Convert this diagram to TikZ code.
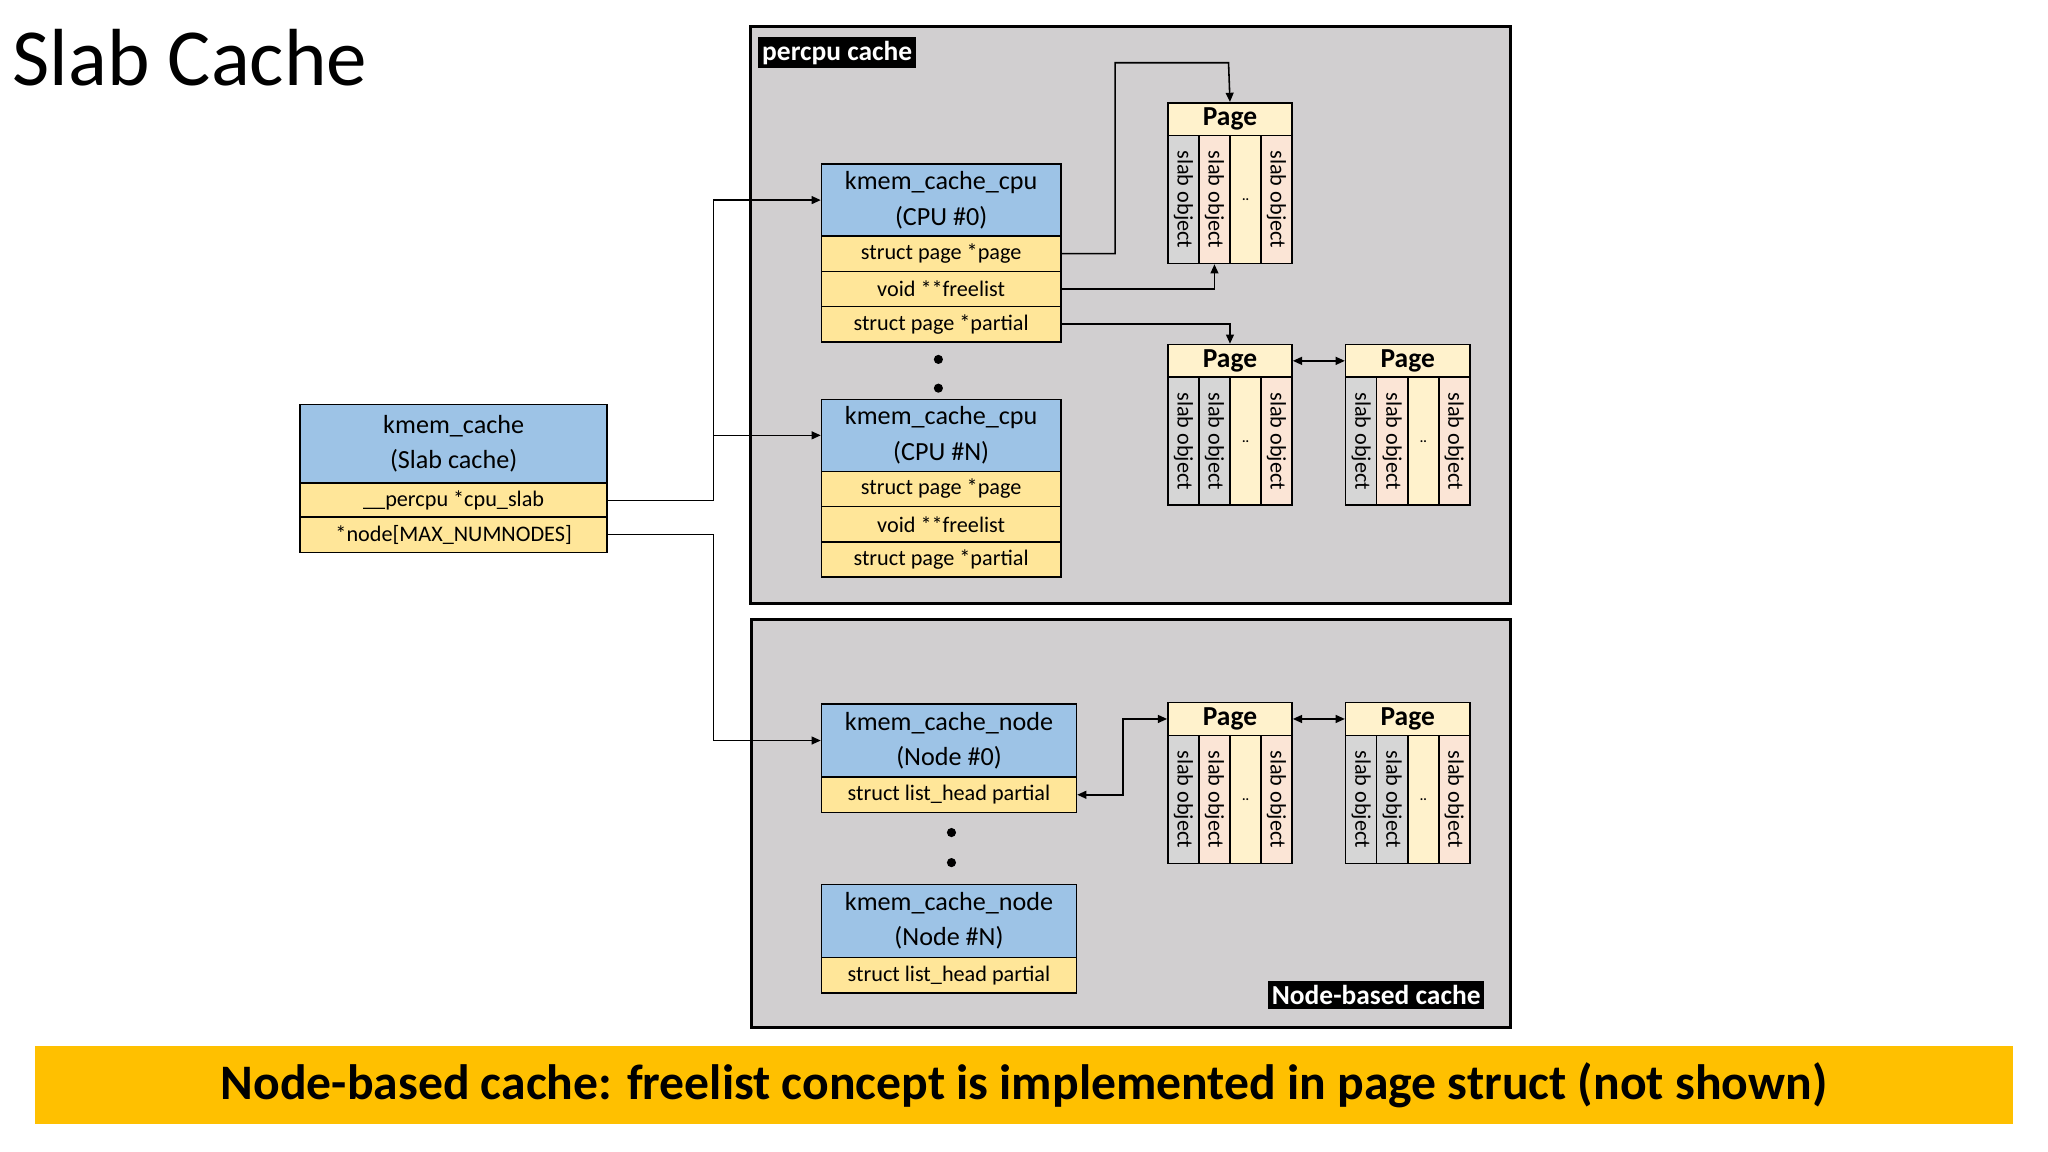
\documentclass[tikz,border=0pt]{standalone}
\usepackage{fontspec}
\setmainfont{Carlito}
\usetikzlibrary{positioning,arrows.meta}
\definecolor{hdrblue}{RGB}{157,195,230}
\definecolor{rowyel}{RGB}{255,230,153}
\definecolor{boxgray}{RGB}{209,207,208}
\definecolor{pagecream}{RGB}{255,242,204}
\definecolor{objgray}{RGB}{214,214,214}
\definecolor{objpink}{RGB}{251,229,214}
\definecolor{banner}{RGB}{255,192,0}
\tikzset{
  cache/.style={draw=black,line width=2.5pt,fill=boxgray},
  tag/.style={fill=black,text=white,font=\fontsize{21}{24}\selectfont\bfseries,inner sep=3pt,anchor=north west},
  hdr/.style={draw=black,line width=1.2pt,fill=hdrblue,anchor=north west,align=center,inner sep=0pt,font=\fontsize{20}{27}\selectfont},
  row/.style={draw=black,line width=1.2pt,fill=rowyel,anchor=north west,inner sep=0pt,minimum height=27pt,font=\fontsize{17}{20}\selectfont},
  pghdr/.style={draw=black,line width=1.2pt,fill=pagecream,anchor=north west,inner sep=0pt,minimum width=95pt,minimum height=25pt,font=\fontsize{21}{24}\selectfont\bfseries},
  obj/.style={draw=black,line width=1.2pt,anchor=north west,inner sep=0pt,minimum width=23.75pt,minimum height=98pt},
  objtxt/.style={rotate=-90,font=\fontsize{17}{20}\selectfont},
  link/.style={line width=1.2pt,-{Triangle[length=7pt,width=6pt]}},
  dlink/.style={line width=1.2pt,{Triangle[length=7pt,width=6pt]}-{Triangle[length=7pt,width=6pt]}},
  bigdot/.style={circle,fill=black,inner sep=0pt,minimum size=7pt}
}
% page with four object columns, #4 = colour of the second column
\newcommand\slabpage[4]{%
  \node[pghdr] (#1) at (#2,#3) {Page};
  \node[obj,fill=objgray] (#1a) at (#2,#3+25) {};
  \node[obj,fill=#4] (#1b) at (#2+23.75,#3+25) {};
  \node[obj,fill=pagecream] (#1c) at (#2+47.5,#3+25) {};
  \node[obj,fill=objpink] (#1d) at (#2+71.25,#3+25) {};
  \node[objtxt] at (#1a) {slab object};
  \node[objtxt] at (#1b) {slab object};
  \node[objtxt] at (#1d) {slab object};
  \node[font=\bfseries,inner sep=0pt] at (#1c) {..};
}
\begin{document}
\begin{tikzpicture}[x=1pt,y=-1pt]
\useasboundingbox (0,0) rectangle (1567,881);
\fill[white] (0,0) rectangle (1567,881);
% title
\node[anchor=west,font=\fontsize{62}{70}\selectfont] (title) at (6,44) {Slab Cache};
% cache areas
\draw[cache] (574,20) rectangle (1156,462);
\draw[cache] (575,474) rectangle (1156,786);
\node[tag] (pctag) at (580,28) {percpu cache};
\node[tag,anchor=south east] (nbtag) at (1136,772) {Node-based cache};
% kmem_cache
\node[hdr,minimum width=235pt,minimum height=60pt] (kc) at (229,309) {kmem\_cache\\(Slab cache)};
\node[row,minimum width=235pt] (kcslab) at (229,369) {\_\_percpu *cpu\_slab};
\node[row,minimum width=235pt] (kcnode) at (229,395) {*node[MAX\_NUMNODES]};
% kmem_cache_cpu
\foreach \n/\y/\c in {c0/125/0,cn/305/N}{
  \node[hdr,minimum width=183pt,minimum height=55pt] (\n) at (628,\y) {kmem\_cache\_cpu\\(CPU \#\c)};
  \node[row,minimum width=183pt] (\n page) at (628,\y+55) {struct page *page};
  \node[row,minimum width=183pt] (\n free) at (628,\y+82) {void **freelist};
  \node[row,minimum width=183pt] (\n part) at (628,\y+109) {struct page *partial};
}
\node[bigdot] (d1) at (718,275) {};
\node[bigdot] (d2) at (718,297) {};
% kmem_cache_node
\foreach \n/\y/\c in {n0/538/0,nn/676/N}{
  \node[hdr,minimum width=195pt,minimum height=56pt] (\n) at (628,\y) {kmem\_cache\_node\\(Node \#\c)};
  \node[row,minimum width=195pt] (\n part) at (628,\y+56) {struct list\_head partial};
}
\node[bigdot] (d3) at (728,637) {};
\node[bigdot] (d4) at (728,660) {};
% pages
\slabpage{pa}{893}{78}{objpink}
\slabpage{pb}{893}{263}{objgray}
\slabpage{pc}{1029}{263}{objpink}
\slabpage{pd}{893}{537}{objpink}
\slabpage{pe}{1029}{537}{objgray}
% links
\coordinate (jn) at (546,0);
\draw[link] (kcslab.east) -| (jn |- c0.west) -- (c0.west);
\draw[link] (jn |- cn.west) -- (cn.west);
\draw[link] (kcnode.east) -| (jn |- n0.west) -- (n0.west);
\draw[link] (c0page.east) -- ++(41,0) |- (940,48) -- (pa.north);
\draw[link] (c0free.east) -| (pab.south);
\draw[link] (c0part.east) -| (pb.north);
\draw[dlink] (pb.east) -- (pc.west);
\draw[dlink] (n0part.east) -- ++(35,0) |- (pd.west);
\draw[dlink] (pd.east) -- (pe.west);
% banner
\node[fill=banner,minimum width=1513pt,minimum height=60pt,inner sep=0pt,
  font=\fontsize{38}{44}\selectfont\bfseries] (note) at (783.5,830)
  {Node-based cache: freelist concept is implemented in page struct (not shown)};
\end{tikzpicture}
\end{document}
